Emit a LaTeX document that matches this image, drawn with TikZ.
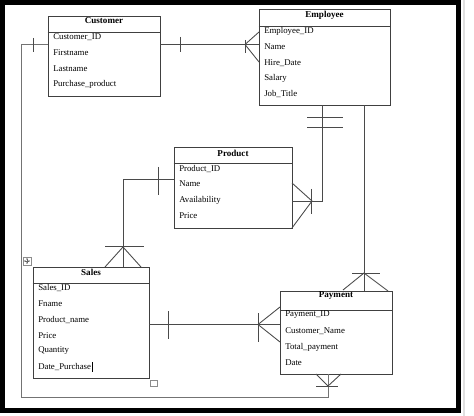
\documentclass[tikz,border=0pt]{standalone}
\usepackage{fontspec}
\setmainfont{Liberation Serif}
\usetikzlibrary{fit,calc,arrows.meta}
\definecolor{boxc}{HTML}{404040}
\definecolor{connc}{HTML}{4A4A4A}
\begin{document}
\begin{tikzpicture}[x=0.75pt,y=-0.75pt,
  entity/.style={draw=boxc, line width=0.7pt, inner sep=0pt, fit={#1}},
  hline/.style={draw=boxc, line width=0.7pt},
  ttl/.style={font=\fontsize{6.8}{8}\selectfont\bfseries, inner sep=0pt},
  attr/.style={font=\fontsize{6.6}{8}\selectfont, inner sep=0pt, anchor=west},
  conn/.style={draw=connc, line width=0.65pt},
]
\useasboundingbox (0,0) rectangle (474,416);
% outer frame
\draw[line width=3.75pt] (2.5,2.5) rectangle (458.5,410.5);
\draw[black!12, line width=1.5pt] (463.5,0) -- (463.5,416);

% ---------- Customer ----------
\node[entity={(48,16) (160,96)}] (cust) {};
\draw[hline] ($(cust.north west)+(0,17)$) -- ($(cust.north east)+(0,17)$);
\node[ttl] (custT) at (104,21) {Customer};
\node[attr] (c1) at (53,37) {Customer\_ID};
\node[attr] (c2) at (53,53) {Firstname};
\node[attr] (c3) at (53,69) {Lastname};
\node[attr] (c4) at (53,84.5) {Purchase\_product};

% ---------- Employee ----------
\node[entity={(259,9) (390,105)}] (emp) {};
\draw[hline] ($(emp.north west)+(0,18)$) -- ($(emp.north east)+(0,18)$);
\node[ttl] (empT) at (324.5,15) {Employee};
\node[attr] (e1) at (264,31) {Employee\_ID};
\node[attr] (e2) at (264,47) {Name};
\node[attr] (e3) at (264,63) {Hire\_Date};
\node[attr] (e4) at (264,78.5) {Salary};
\node[attr] (e5) at (264,94) {Job\_Title};

% ---------- Product ----------
\node[entity={(174,147) (292,228)}] (prod) {};
\draw[hline] ($(prod.north west)+(0,17)$) -- ($(prod.north east)+(0,17)$);
\node[ttl] (prodT) at (233,153) {Product};
\node[attr] (p1) at (179,169) {Product\_ID};
\node[attr] (p2) at (179,184) {Name};
\node[attr] (p3) at (179,200) {Availability};
\node[attr] (p4) at (179,216) {Price};

% ---------- Sales ----------
\node[entity={(33,267) (149,378)}] (sales) {};
\draw[hline] ($(sales.north west)+(0,17)$) -- ($(sales.north east)+(0,17)$);
\node[ttl] (salesT) at (91,272.5) {Sales};
\node[attr] (s1) at (38,288.5) {Sales\_ID};
\node[attr] (s2) at (38,304) {Fname};
\node[attr] (s3) at (38,320) {Product\_name};
\node[attr] (s4) at (38,335.5) {Price};
\node[attr] (s5) at (38,351) {Quantity};
\node[attr] (s6) at (38,367) {Date\_Purchase};
\draw[black, line width=0.5pt] ($(s6.east)+(1,-5)$) -- ($(s6.east)+(1,5)$);

% ---------- Payment ----------
\node[entity={(280,291) (392,374)}] (pay) {};
\draw[hline] ($(pay.north west)+(0,20)$) -- ($(pay.north east)+(0,20)$);
\node[ttl] (payT) at (336,295.5) {Payment};
\node[attr] (y1) at (285,315) {Payment\_ID};
\node[attr] (y2) at (285,331) {Customer\_Name};
\node[attr] (y3) at (285,347) {Total\_payment};
\node[attr] (y4) at (285,363) {Date};

% ---------- editor handles ----------
\draw[black!45, line width=0.5pt] (23,257) rectangle (31,265);
\draw[black!60, line width=0.45pt, {Stealth[length=1.2pt,width=1.4pt]}-{Stealth[length=1.2pt,width=1.4pt]}] (27,258) -- (27,264);
\draw[black!60, line width=0.45pt, {Stealth[length=1.2pt,width=1.4pt]}-{Stealth[length=1.2pt,width=1.4pt]}] (24,261) -- (30,261);
\draw[black!45, line width=0.5pt] (150,380) rectangle (157,386);

% ---------- Customer -- Employee ----------
\coordinate (ce) at (245,44.5);
\draw[conn] (ce -| cust.east) -- (ce -| emp.west);
\draw[conn] (180,37) -- (180,52);
\draw[conn] (259,32) -- (ce) -- (259,62);
\draw[conn] (245,40) -- (245,53);

% ---------- Customer -- Payment (around left) ----------
\coordinate (cpL) at (21,44.5);
\coordinate (cpB) at (328,397);
\draw[conn, draw=black!55] (cpL -| cust.west) -- (cpL) -- (21,397) -- (cpB) -- (cpB |- pay.south);
\draw[conn] (33,38) -- (33,52);
\draw[conn] (316,374) -- (328,386) -- (341,374);
\draw[conn] (316,386) -- (338,386);

% ---------- Employee -- Product ----------
\coordinate (epV) at (322,201);
\draw[conn] (epV |- emp.south) -- (epV) -- (epV -| prod.east);
\draw[conn] (307,117) -- (343,117);
\draw[conn] (307,127) -- (343,127);
\draw[conn] (292,183) -- (312,201) -- (292,228);
\draw[conn] (311,189) -- (311,214);

% ---------- Employee -- Payment ----------
\coordinate (eyV) at (364,273);
\draw[conn] (eyV |- emp.south) -- (eyV |- pay.north);
\draw[conn] (343,290) -- (eyV) -- (388,291);
\draw[conn] (352,273) -- (380,273);

% ---------- Product -- Sales ----------
\coordinate (psC) at (123,179);
\draw[conn] (psC -| prod.west) -- (psC) -- (psC |- sales.north);
\draw[conn] (158,167) -- (158,195);
\draw[conn] (105,267) -- (123,247) -- (141,267);
\draw[conn] (105,246.5) -- (144,246.5);

% ---------- Sales -- Payment ----------
\coordinate (spC) at (258,324.5);
\draw[conn] (spC -| sales.east) -- (spC -| pay.west);
\draw[conn] (168,311) -- (168,339);
\draw[conn] (280,307) -- (spC) -- (280,342);
\draw[conn] (258,313) -- (258,342);
\end{tikzpicture}
\end{document}
